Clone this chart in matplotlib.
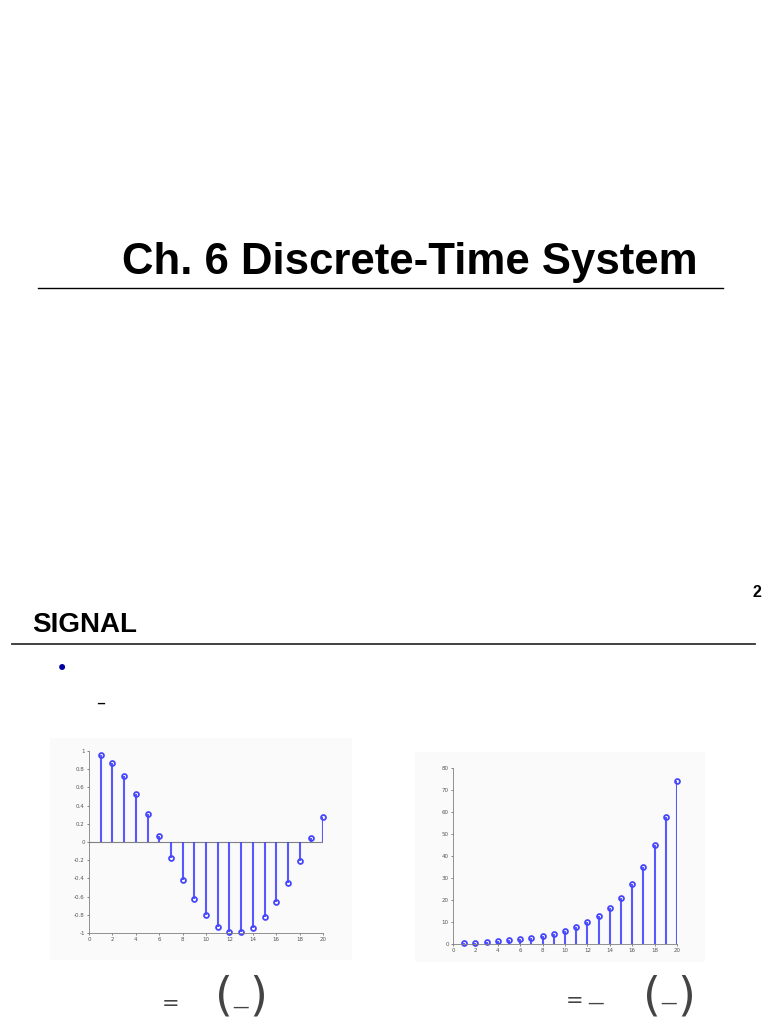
import numpy as np
import matplotlib.pyplot as plt
from matplotlib.patches import Rectangle
from matplotlib.lines import Line2D

W, H = 768, 1024

title = 'Ch. 6 Discrete-Time System'
section = 'SIGNAL'
page_no = '2'

n = np.arange(1, 21)
# left stem plot
cos_vals = [0.96, 0.87, 0.73, 0.53, 0.31, 0.07, -0.18, -0.42, -0.63, -0.80,
            -0.93, -0.99, -0.99, -0.94, -0.82, -0.66, -0.45, -0.21, 0.04, 0.28]
# right stem plot
exp_vals = [0.45, 0.6, 0.9, 1.2, 1.7, 2.1, 2.7, 3.5, 4.7, 5.9,
            7.7, 10.0, 12.9, 16.5, 21.1, 27.3, 35.1, 45.1, 57.8, 74.2]

x_ticks = np.arange(0, 21, 2)
left_yticks = np.round(np.arange(-1, 1.01, 0.2), 1)
right_yticks = np.arange(0, 81, 10)

stem_col = '#4646ff'
axis_col = '#808080'

fig = plt.figure(figsize=(W / 100, H / 100), dpi=100)
fig.patch.set_facecolor('white')


# pixel box -> figure fraction
def px_axes(x0, y0, x1, y1):
    return fig.add_axes([x0 / W, 1 - y1 / H, (x1 - x0) / W, (y1 - y0) / H])


def px_text(x, y, s, **kw):
    fig.text(x / W, 1 - y / H, s, **kw)


def px_line(x0, x1, y, **kw):
    fig.add_artist(Line2D([x0 / W, x1 / W], [1 - y / H, 1 - y / H], **kw))


def px_rect(x0, y0, x1, y1, **kw):
    fig.add_artist(Rectangle((x0 / W, 1 - y1 / H), (x1 - x0) / W, (y1 - y0) / H,
                             transform=fig.transFigure, **kw))


# faint backgrounds behind the pasted plots
px_rect(50, 738, 352, 960, facecolor='#fafafa', edgecolor='none', zorder=0)
px_rect(415, 752, 705, 962, facecolor='#fafafa', edgecolor='none', zorder=0)

# header
px_text(122, 274, title, fontsize=31.5, fontweight='bold', family='Liberation Sans',
        ha='left', va='baseline')
px_line(38, 723, 288, color='black', lw=1.0)

px_text(761, 597, page_no, fontsize=11.5, fontweight='bold', family='Liberation Sans',
        ha='right', va='baseline')
px_text(32, 632, section, fontsize=20, fontweight='bold', family='Liberation Sans',
        ha='left', va='baseline')
px_line(12, 755, 644, color='#333333', lw=1.3)

px_text(62, 669, '\u2022', fontsize=15, color='#0000a0', ha='center', va='center')
px_text(101, 703, '\u2013', fontsize=13, color='black', ha='center', va='center')


def stem_plot(ax, y, ylim, yticks, baseline):
    ml, sl, bl = ax.stem(n, y, basefmt=' ')
    plt.setp(sl, color=stem_col, linewidth=1.5, alpha=0.9)
    plt.setp(ml, color=stem_col, marker='o', markersize=3.5,
             markerfacecolor='none', markeredgewidth=1.3, clip_on=False)
    if baseline:
        ax.axhline(0, color=axis_col, lw=0.8, zorder=0)
    ax.set_xlim(0, 20)
    ax.set_ylim(*ylim)
    ax.set_xticks(x_ticks)
    ax.set_yticks(yticks)
    ax.set_yticklabels([f'{v + 0:g}' for v in yticks])
    ax.tick_params(labelsize=4, length=1.5, width=0.5, colors='#555555', pad=1.5)
    for s in ['top', 'right']:
        ax.spines[s].set_visible(False)
    for s in ['left', 'bottom']:
        ax.spines[s].set_color(axis_col)
        ax.spines[s].set_linewidth(0.6)
    ax.set_facecolor('none')


ax1 = px_axes(89, 751, 323, 933)
stem_plot(ax1, cos_vals, (-1, 1), left_yticks, True)

ax2 = px_axes(453, 768, 677, 944)
stem_plot(ax2, exp_vals, (0, 80), right_yticks, False)

# formula fragments below the plots
eq_col = '#444444'
px_text(171, 1004, '=', fontsize=15, color=eq_col, ha='center', va='center')
px_text(224, 997, '(', fontsize=33, color=eq_col, ha='center', va='center')
px_text(241, 1007, '\u2014', fontsize=12, color=eq_col, ha='center', va='center')
px_text(258, 997, ')', fontsize=33, color=eq_col, ha='center', va='center')

px_text(575, 1001, '=', fontsize=15, color=eq_col, ha='center', va='center')
px_text(596, 1003, '\u2014', fontsize=12, color=eq_col, ha='center', va='center')
px_text(652, 997, '(', fontsize=33, color=eq_col, ha='center', va='center')
px_text(669, 1003, '\u2014', fontsize=12, color=eq_col, ha='center', va='center')
px_text(686, 997, ')', fontsize=33, color=eq_col, ha='center', va='center')

fig.savefig('out.png', dpi=100)
